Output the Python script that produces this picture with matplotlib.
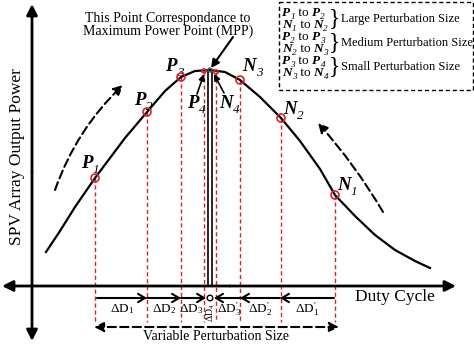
import matplotlib.pyplot as plt
from matplotlib.patches import FancyArrowPatch, Circle, Rectangle

plt.rcParams['font.family'] = ['Liberation Serif', 'DejaVu Serif']
plt.rcParams['mathtext.fontset'] = 'custom'
plt.rcParams['mathtext.rm'] = 'Liberation Serif'
plt.rcParams['mathtext.it'] = 'Liberation Serif:italic'

# P-V curve traced in drawing units (x right, y down)
curve_x = [46, 60, 75, 95, 110, 125, 147, 165, 181, 195, 210, 225, 240, 260, 281, 300, 320, 335, 355, 375, 395, 415, 430]
curve_y = [252, 231, 207, 178, 158, 138, 112, 91, 77, 71, 70, 72, 80, 97, 118, 141, 169, 195, 216, 235, 250, 261, 268]

# operating points on the curve
pt_names = ['P1', 'P2', 'P3', 'P4', 'N4', 'N3', 'N2', 'N1']
pt_x = [95, 147, 181, 204, 216, 240, 281, 335]
pt_y = [178, 112, 77, 71, 72, 80, 118, 195]
mpp_x, mpp_y = 210, 70

# step labels along the duty-cycle axis
step_labels = [r'$\Delta$D$_1$', r'$\Delta$D$_2$', r'$\Delta$D$_3$',
               r"$\Delta$D$_3^{\prime}$", r"$\Delta$D$_2^{\prime}$", r"$\Delta$D$_1^{\prime}$"]
step_x = [122, 164, 191, 229, 260, 307]

legend_rows = [('1', '2', 'Large Perturbation Size'),
               ('2', '3', 'Medium Perturbation Size'),
               ('3', '4', 'Small Perturbation Size')]

fig = plt.figure(figsize=(4.74, 3.47), dpi=100)
ax = fig.add_axes([0, 0, 1, 1])
ax.set_xlim(0, 474)
ax.set_ylim(347, 0)
ax.axis('off')
rend = fig.canvas.get_renderer()

red = '#d8232a'


def arrow(p0, p1, style='-|>', ms=12, lw=1.8, ls='-', rad=0.0, z=3):
    a = FancyArrowPatch(p0, p1, arrowstyle=style, mutation_scale=ms, lw=lw,
                        linestyle=ls, color='black', shrinkA=0, shrinkB=0,
                        connectionstyle='arc3,rad=%s' % rad, zorder=z)
    ax.add_patch(a)


def rich(x, y, parts, size):
    # parts: (text, kind) with B = bold italic, s = italic subscript, r = regular
    for s, kind in parts:
        if kind == 'B':
            t = ax.text(x, y, s, fontsize=size, fontweight='bold', fontstyle='italic', va='baseline')
        elif kind == 's':
            t = ax.text(x + 0.3, y + size * 0.35, s, fontsize=size * 0.7, fontstyle='italic', va='baseline')
        else:
            t = ax.text(x, y, s, fontsize=size, va='baseline')
        x += t.get_window_extent(rend).width + (0.3 if kind == 's' else 0)


# axes with arrows at both ends
arrow((32, 172), (32, 4), style='-|>', ms=16, lw=2)
arrow((32, 172), (32, 341), style='-|>', ms=16, lw=2)
arrow((230, 286), (2, 286), style='-|>', ms=16, lw=2)
arrow((230, 286), (456, 286), style='-|>', ms=16, lw=2)

ax.text(17, 157, 'SPV Array Output Power', rotation=90, ha='center', va='center', fontsize=12.5)
ax.text(395, 297, 'Duty Cycle', ha='center', va='center', fontsize=12.5)

# curve
ax.plot(curve_x, curve_y, color='black', lw=1.6, zorder=4)

# red dashed drop lines and markers
for x, y in zip(pt_x, pt_y):
    ax.plot([x, x], [y, 322], color=red, lw=1, ls=(0, (3, 2)), zorder=2)
for x, y, n in zip(pt_x, pt_y, pt_names):
    r = 4 if n not in ('P4', 'N4') else 2
    ax.add_patch(Circle((x, y), r, fill=False, ec=red, lw=1.2, zorder=5))
ax.add_patch(Circle((mpp_x, mpp_y), 2, fill=False, ec='#555555', lw=1, zorder=6))

# MPP vertical double line
ax.plot([208, 208], [72, 286], color='black', lw=1.2, zorder=3)
ax.plot([212, 212], [72, 286], color='black', lw=1.2, zorder=3)

# point labels (left edge, baseline)
lab_pos = {'P1': (81, 168), 'P2': (134, 105), 'P3': (165, 71), 'N3': (242, 71),
           'N2': (283, 114), 'N1': (337, 190), 'P4': (187, 108), 'N4': (219, 108)}
for n, (x, y) in lab_pos.items():
    rich(x, y, [(n[0], 'B'), (n[1], 's')], 13.5)

arrow((197, 94), (204, 74), ms=9, lw=1.2)
arrow((224, 93), (214, 74), ms=9, lw=1.2)

# MPP annotation
ax.text(168, 25, 'This Point Correspondance to\nMaximum Power Point (MPP)', ha='center', va='center',
        fontsize=10, linespacing=0.95)
arrow((233, 37), (211, 68), ms=12, lw=1.5)

# step arrows on the duty-cycle axis
yd = 298
for a, b in [(97, 147), (147, 181), (181, 206)]:
    arrow((a, yd), (b, yd), style='->,head_length=0.5,head_width=0.3', ms=10, lw=1.5)
for a, b in [(334, 280), (280, 240), (240, 214)]:
    arrow((a, yd), (b, yd), style='->,head_length=0.5,head_width=0.3', ms=10, lw=1.5)
ax.add_patch(Circle((210, yd), 2.8, fill=False, ec='black', lw=1, zorder=5))
for lbl, x in zip(step_labels, step_x):
    ax.text(x, 309, lbl, ha='center', va='center', fontsize=9.5)
ax.text(211, 313, r'$\Delta$D$_4$', rotation=90, ha='center', va='center', fontsize=7)

# variable step size arrow
arrow((216, 327), (94, 327), ms=14, lw=1.5, ls=(0, (4, 2)))
arrow((216, 327), (339, 327), ms=14, lw=1.5, ls=(0, (4, 2)))
ax.text(216, 337, 'Variable Perturbation Size', ha='center', va='center', fontsize=10)

# direction-of-tracking arrows
arrow((55, 190), (123, 85), ms=14, lw=1.5, ls=(0, (4, 2)), rad=-0.12)
arrow((383, 212), (318, 123), ms=14, lw=1.5, ls=(0, (4, 2)), rad=0.05)

# legend box
ax.add_patch(Rectangle((279, 2), 194, 88, fill=False, ec='black', lw=1, ls=(0, (3, 2)), zorder=3))
row_y = [18, 42, 66]
for (a, b, t), y in zip(legend_rows, row_y):
    rich(282, y - 2, [('P', 'B'), (a, 's'), (' to ', 'r'), ('P', 'B'), (b, 's')], 9.5)
    rich(282, y + 10, [('N', 'B'), (a, 's'), (' to ', 'r'), ('N', 'B'), (b, 's')], 9.5)
    ax.text(329, y + 1, '}', ha='left', va='center', fontsize=17, fontweight='light')
    ax.text(341, y + 1, t, ha='left', va='center', fontsize=9)

fig.savefig('out.png', dpi=100)
